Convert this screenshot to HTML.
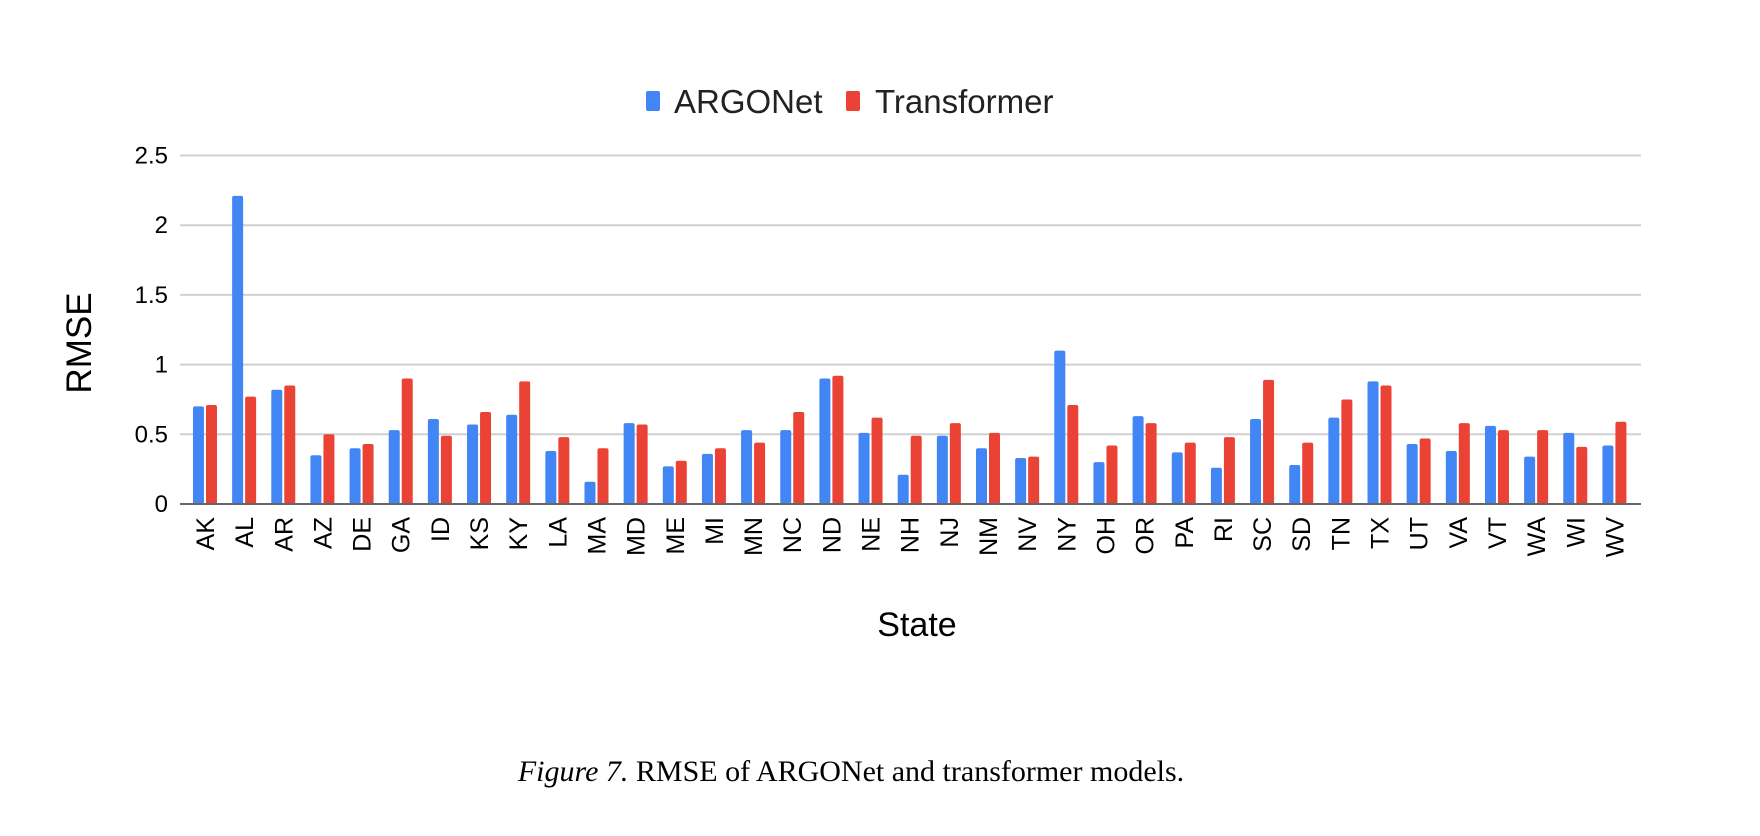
<!DOCTYPE html>
<html><head><meta charset="utf-8"><style>
body{margin:0;background:#fff;}
svg{display:block;font-family:"Liberation Sans",Arial,sans-serif;}
</style></head><body>
<svg id="chart" width="1760" height="836" viewBox="0 0 1760 836">
<g id="grid"></g>
<g id="yticks"></g>
<g id="bars"></g>
<g id="xticks"></g>
<line x1="180" y1="504" x2="1641" y2="504" stroke="#666" stroke-width="2"/>
<g>
<rect x="646" y="91" width="14" height="20" rx="2" fill="#4285f4"/>
<text x="674" y="113" font-size="33" fill="#222">ARGONet</text>
<rect x="846" y="91" width="14" height="20" rx="2" fill="#ea4335"/>
<text x="875" y="113" font-size="33" fill="#222">Transformer</text>
</g>
<text transform="translate(91,343) rotate(-90)" text-anchor="middle" font-size="35" fill="#000">RMSE</text>
<text x="917" y="636" text-anchor="middle" font-size="34" fill="#000">State</text>
<text x="851" y="781" text-anchor="middle" font-size="30" font-family="'Liberation Serif',serif" fill="#000"><tspan font-style="italic">Figure 7.</tspan> RMSE of ARGONet and transformer models.</text>
</svg>
<script>
const states=["AK","AL","AR","AZ","DE","GA","ID","KS","KY","LA","MA","MD","ME","MI","MN","NC","ND","NE","NH","NJ","NM","NV","NY","OH","OR","PA","RI","SC","SD","TN","TX","UT","VA","VT","WA","WI","WV"];
const argonet=[0.70,2.21,0.82,0.35,0.40,0.53,0.61,0.57,0.64,0.38,0.16,0.58,0.27,0.36,0.53,0.53,0.90,0.51,0.21,0.49,0.40,0.33,1.10,0.30,0.63,0.37,0.26,0.61,0.28,0.62,0.88,0.43,0.38,0.56,0.34,0.51,0.42];
const transformer=[0.71,0.77,0.85,0.50,0.43,0.90,0.49,0.66,0.88,0.48,0.40,0.57,0.31,0.40,0.44,0.66,0.92,0.62,0.49,0.58,0.51,0.34,0.71,0.42,0.58,0.44,0.48,0.89,0.44,0.75,0.85,0.47,0.58,0.53,0.53,0.41,0.59];
const yTicks=[0,0.5,1,1.5,2,2.5];
const yTickLabels=["0","0.5","1","1.5","2","2.5"];
const NS="http://www.w3.org/2000/svg";
const y0=504,yTop=155.5,yMax=2.5,bandL=185.4,bandR=1634;
const yScale=v=>y0-(v/yMax)*(y0-yTop);
const pitch=(bandR-bandL)/states.length;
const xCenter=i=>bandL+(i+0.5)*pitch;
function mk(tag,attrs,parent){const e=document.createElementNS(NS,tag);for(const k in attrs)e.setAttribute(k,attrs[k]);parent.appendChild(e);return e;}
const grid=document.getElementById('grid'),yt=document.getElementById('yticks'),bars=document.getElementById('bars'),xt=document.getElementById('xticks');
yTicks.forEach((v,i)=>{
  if(v>0){const l=mk('line',{x1:180,x2:1641,y1:yScale(v),y2:yScale(v),stroke:'#d0d0d0','stroke-width':2},grid);
  
  }
  const t=mk('text',{x:168,y:yScale(v)+8,'text-anchor':'end','font-size':24,fill:'#000'},yt);
  t.textContent=yTickLabels[i];
  
  
});
const bw=11,gap=2;
states.forEach((s,i)=>{
  const c=xCenter(i);
  const a=argonet[i],b=transformer[i];
  const r1=mk('rect',{x:c-gap/2-bw,y:yScale(a),width:bw,height:y0-yScale(a),rx:2,fill:'#4285f4'},bars);
  
  
  const r2=mk('rect',{x:c+gap/2,y:yScale(b),width:bw,height:y0-yScale(b),rx:2,fill:'#ea4335'},bars);
  
  
  const t=mk('text',{transform:`translate(${c+9},517) rotate(-90)`,'text-anchor':'end','font-size':25,fill:'#000'},xt);
  t.textContent=s;
  
  
});
</script>
</body></html>
